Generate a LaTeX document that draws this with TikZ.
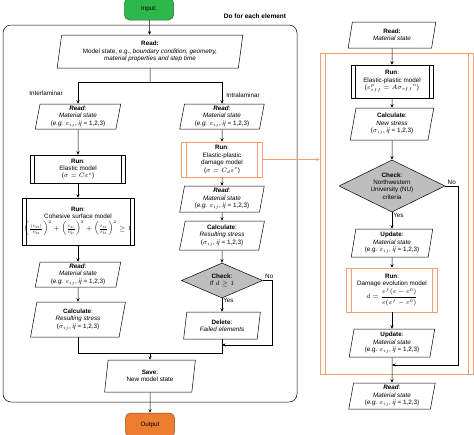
\documentclass[tikz,border=0pt]{standalone}
\usepackage{fix-cm}
\usepackage{amsmath}
\usepackage{fontspec}
\setmainfont{Liberation Sans}
\usetikzlibrary{shapes.geometric, arrows.meta, calc}
\definecolor{inputgreen}{RGB}{46,184,76}
\definecolor{outputorange}{RGB}{237,125,49}
\definecolor{frameorange}{RGB}{242,160,115}
\definecolor{checkgray}{RGB}{190,190,190}
\newcommand{\ijidx}{\textit{i\kern0.4pt j}}
\newcommand{\stressstate}{($\sigma_{ij}$, \ijidx{} = 1,2,3)}

\begin{document}
\begin{tikzpicture}[x=1pt, y=-1pt, line width=0.5pt, font=\fontsize{6.3}{7.4}\selectfont, >={Stealth[length=3.5pt,width=3pt]}]
	\tikzstyle{readnode}=[
	draw,
	trapezium,
	trapezium left angle=81,
	trapezium right angle=99,
	trapezium stretches=true,
	align=center,
	inner sep=0.5pt
	]
	\tikzstyle{runnode}=[
	draw,
	rectangle,
	align=center,
	inner sep=0.5pt,
	path picture={\draw ([xshift=4pt]path picture bounding box.north west) -- ([xshift=4pt]path picture bounding box.south west)
		([xshift=-4pt]path picture bounding box.north east) -- ([xshift=-4pt]path picture bounding box.south east);}
	]
	\tikzstyle{damagenode}=[
	draw=frameorange,
	rectangle,
	align=center,
	inner sep=0.5pt,
	path picture={\draw[frameorange] ([xshift=5pt]path picture bounding box.north west) -- ([xshift=5pt]path picture bounding box.south west)
		([xshift=-5pt]path picture bounding box.north east) -- ([xshift=-5pt]path picture bounding box.south east);}
	]
	\tikzstyle{checknode}=[
	draw,
	diamond,
	fill=checkgray,
	inner sep=0pt
	]
	\tikzstyle{endnode}=[
	draw,
	rectangle,
	rounded corners=5pt,
	minimum width=49,
	align=center
	]
	\useasboundingbox (0,0) rectangle (474,434);
	%
	% element loop
	\node[draw, rounded corners=8pt, minimum width=294, minimum height=377] (element) at (150,213.5) {};
	\node[font=\fontsize{6.5}{7.5}\selectfont\bfseries] (loop) at (255,16) {Do for each element};
	\node[endnode, fill=inputgreen, draw=inputgreen!60!black, minimum height=22] (input) at (149,9) {Input:};
	\node[readnode, minimum width=186, minimum height=33] (model) at (150,51.5) {\textbf{Read:}\\Model state, e.g., \textit{boundary condition, geometry,}\\\textit{material properties and step time}};
	\coordinate (split) at (150,82);
	\node (inter) at (46,93) {Interlaminar};
	\node (intra) at (243,95) {Intralaminar};
	%
	% interlaminar
	\node[readnode, minimum width=86, minimum height=25] (lread) at (78,116.5) {\textbf{\textit{Read}}:\\\textit{Material state}\\(\textit{e.g.} $\varepsilon_{ij}$, \ijidx{} = 1,2,3)};
	\node[runnode, minimum width=95, minimum height=28] (lelastic) at (78,169) {\textbf{Run}:\\Elastic model\\($\sigma = C\varepsilon^{e}$)};
	\node[runnode, minimum width=112, minimum height=47] (lcohesive) at (78,221.5) {\textbf{Run}:\\Cohesive surface model\\[1pt]{\fontsize{5.9}{7}\selectfont$\left(\frac{\langle t_{33}\rangle}{t_{33}^{c}}\right)^{2}+\left(\frac{t_{31}}{t_{31}^{c}}\right)^{2}+\left(\frac{t_{32}}{t_{32}^{c}}\right)^{2}\geq 1$}};
	\node[readnode, minimum width=86, minimum height=25] (lread2) at (78,274.5) {\textbf{\textit{Read}}:\\\textit{Material state}\\(\textit{e.g.} $\varepsilon_{ij}$, \ijidx{} = 1,2,3)};
	\node[readnode, minimum width=95, minimum height=35] (lcalc) at (78,319.5) {\textbf{Calculate}:\\\textit{Resulting stress}\\\stressstate};
	%
	% intralaminar
	\node[readnode, minimum width=85, minimum height=25] (rread) at (222,116.5) {\textbf{\textit{Read}}:\\\textit{Material state}\\(\textit{e.g.} $\varepsilon_{ij}$, \ijidx{} = 1,2,3)};
	\node[damagenode, minimum width=81, minimum height=35] (rdamage) at (222,159.5) {\textbf{Run}:\\Elastic-plastic\\damage model\\($\sigma = C_{d}\varepsilon^{e}$)};
	\node[readnode, minimum width=85, minimum height=26] (rread2) at (222,199) {\textbf{\textit{Read}}:\\\textit{Material state}\\(\textit{e.g.} $\varepsilon_{ij}$, \ijidx{} = 1,2,3)};
	\node[readnode, minimum width=85, minimum height=29] (rcalc) at (222,235.5) {\textbf{Calculate}:\\\textit{Resulting stress}\\\stressstate};
	\node[checknode, minimum width=81, minimum height=35] (rcheck) at (222,280.5) {};
	\node[align=center] (rchecktext) at (rcheck) {\textbf{Check}:\\\textit{If} $d \geq 1$};
	\node[readnode, minimum width=77, minimum height=27] (rdelete) at (222,325.5) {\textbf{Delete}:\\\textit{Failed elements}};
	\coordinate (rno) at (222,345);
	\coordinate (merge) at (150,353);
	%
	\node[readnode, minimum width=91, minimum height=32] (save) at (150,376) {\textbf{Save}:\\New model state};
	\node[endnode, fill=outputorange, draw=outputorange!60!black, minimum height=24] (output) at (150,425) {Output};
	%
	% material point
	\node[readnode, minimum width=88, minimum height=26] (pread) at (392,35) {\textbf{Read:}\\\textit{Material state}};
	\node[draw=frameorange, rectangle, minimum width=153.5, minimum height=321,
	path picture={\draw[frameorange] ([xshift=5pt]path picture bounding box.north west) -- ([xshift=5pt]path picture bounding box.south west)
		([xshift=-5pt]path picture bounding box.north east) -- ([xshift=-5pt]path picture bounding box.south east);}] (frame) at (396.75,213.5) {};
	\node[runnode, minimum width=82, minimum height=33] (prun) at (392,81.5) {\textbf{Run}:\\Elastic-plastic model\\($\varepsilon^{p}_{eff} = A\sigma_{eff}{}^{n}$)};
	\node[readnode, minimum width=84, minimum height=32] (pcalc) at (392,124) {\textbf{Calculate}:\\\textit{New stress}\\\stressstate};
	\node[checknode, minimum width=106, minimum height=52] (pcheck) at (392,186) {};
	\node[align=center] (pchecktext) at (pcheck) {\textbf{Check}:\\Northwestern\\University (NU)\\criteria};
	\node[readnode, minimum width=82, minimum height=28] (pupdate) at (392,243) {\textbf{Update}:\\\textit{Material state}\\(e.g. $\varepsilon_{ij}$, \ijidx{} = 1,2,3)};
	\node[damagenode, minimum width=91, minimum height=44] (pdamage) at (392,290) {\textbf{Run}:\\Damage evolution model\\$d = \dfrac{\varepsilon^{f}(\varepsilon-\varepsilon^{0})}{\varepsilon(\varepsilon^{f}-\varepsilon^{0})}$};
	\node[readnode, minimum width=86, minimum height=28] (pupdate2) at (392,343) {\textbf{Update}:\\\textit{Material state}\\(e.g. $\varepsilon_{ij}$, \ijidx{} = 1,2,3)};
	\node[readnode, minimum width=87, minimum height=26] (pread2) at (392,396) {\textbf{\textit{Read}}:\\\textit{Material state}\\(\textit{e.g.} $\varepsilon_{ij}$, \ijidx{} = 1,2,3)};
	\coordinate (pno) at (392,365);
	%
	% connectors
	\draw[->] (input) -- (model);
	\draw (model) -- (split);
	\draw[->] (split) -| (lread.north);
	\draw[->] (split) -| (rread.north);
	\draw[->] (lread) -- (lelastic);
	\draw[->] (lelastic) -- (lcohesive);
	\draw[->] (lcohesive) -- (lread2);
	\draw[->] (lread2) -- (lcalc);
	\draw[->] (rread) -- (rdamage);
	\draw[->] (rdamage) -- (rread2);
	\draw[->] (rread2) -- (rcalc);
	\draw[->] (rcalc) -- (rcheck);
	\draw[->] (rcheck) -- (rdelete) node[pos=0.15, right, inner sep=1pt] {Yes};
	\draw[->] (rcheck.east) -- ++(9,0) node[above, pos=0.5, inner sep=1.5pt, xshift=2pt] {No} |- (rno);
	\draw (lcalc.south) |- (merge);
	\draw (rdelete.south) |- (merge);
	\draw[->] (merge) -- (save);
	\draw[->] (save) -- (output);
	\draw[->, frameorange] (rdamage.east) -- (rdamage.east -| frame.west);
	\draw[->] (pread) -- (prun);
	\draw[->] (prun) -- (pcalc);
	\draw[->] (pcalc) -- (pcheck);
	\draw[->] (pcheck) -- (pupdate) node[pos=0.2, right, inner sep=1pt] {Yes};
	\draw[->] (pupdate) -- (pdamage);
	\draw[->] (pdamage) -- (pupdate2);
	\draw[->] (pupdate2) -- (pread2);
	\draw[->] (pcheck.east) -- ++(13,0) node[above, pos=0.5, inner sep=1.5pt] {No} |- (pno);
\end{tikzpicture}
\end{document}
